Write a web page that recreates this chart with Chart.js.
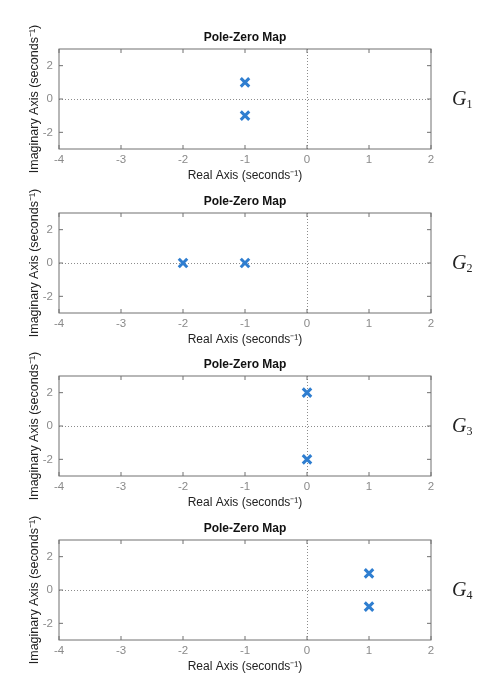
<!DOCTYPE html>
<html>
<head>
<meta charset="utf-8">
<script src="https://cdn.jsdelivr.net/npm/chart.js@4"></script>
<style>
  body { margin: 0; background: #fff; width: 495px; height: 698px; position: relative; overflow: hidden; }
  .panel { position: absolute; left: 0; width: 495px; height: 164px; }
  .glabel { position: absolute; left: 452px; line-height: 20px; font-family: "Liberation Serif", "DejaVu Serif", serif;
            font-style: italic; font-size: 20px; color: #222; }
  .glabel sub { font-style: normal; font-size: 12px; vertical-align: -3px; }
</style>
</head>
<body>
<script>
// one row per system G1..G4
const systemNames = ["1", "2", "3", "4"];
const poleReal = [[-1, -1], [-2, -1], [0, 0], [1, 1]];
const poleImag = [[1, -1], [0, 0], [2, -2], [1, -1]];
const xTicks = [-4, -3, -2, -1, 0, 1, 2];
const yTicks = [-2, 0, 2];
const panelTops = [24, 188, 351, 515];

// box round the plot with small inward ticks, MATLAB style
const frame = {
  id: "frame",
  afterDraw(chart) {
    const { ctx, chartArea: a, scales: { x, y } } = chart;
    ctx.save();
    ctx.strokeStyle = "#707070";
    ctx.lineWidth = 1;
    ctx.strokeRect(a.left, a.top, a.right - a.left, a.bottom - a.top);
    ctx.beginPath();
    xTicks.forEach(v => {
      const px = x.getPixelForValue(v);
      ctx.moveTo(px, a.bottom); ctx.lineTo(px, a.bottom - 4);
      ctx.moveTo(px, a.top); ctx.lineTo(px, a.top + 4);
    });
    yTicks.forEach(v => {
      const py = y.getPixelForValue(v);
      ctx.moveTo(a.left, py); ctx.lineTo(a.left + 4, py);
      ctx.moveTo(a.right, py); ctx.lineTo(a.right - 4, py);
    });
    ctx.stroke();
    ctx.restore();
  }
};

const zeroLine = c => (c.tick && c.tick.value === 0) ? "#8c8c8c" : "rgba(0,0,0,0)";

systemNames.forEach((name, i) => {
  const top = panelTops[i];
  const wrap = document.createElement("div");
  wrap.className = "panel";
  wrap.style.top = top + "px";
  const canvas = document.createElement("canvas");
  canvas.width = 495;
  canvas.height = 164;
  wrap.appendChild(canvas);
  document.body.appendChild(wrap);

  const label = document.createElement("div");
  label.className = "glabel";
  label.style.top = (top + 75 - 11) + "px";
  label.innerHTML = "G<sub>" + name + "</sub>";
  document.body.appendChild(label);

  const points = poleReal[i].map((re, k) => ({ x: re, y: poleImag[i][k] }));

  new Chart(canvas.getContext("2d"), {
    type: "scatter",
    data: {
      datasets: [{
        data: points,
        pointStyle: "crossRot",
        pointRadius: 6,
        pointBorderWidth: 3,
        borderColor: "#2f7ed0",
        backgroundColor: "#2f7ed0"
      }]
    },
    plugins: [frame],
    options: {
      responsive: false,
      animation: false,
      layout: { padding: { left: 0, right: 64, top: 0, bottom: 0 } },
      plugins: {
        legend: { display: false },
        tooltip: { enabled: false },
        title: {
          display: true,
          fullSize: false,
          text: "Pole-Zero Map",
          color: "#111",
          font: { family: "Liberation Sans", size: 12, weight: "bold" },
          padding: { top: 6, bottom: 4.6 }
        }
      },
      scales: {
        x: {
          type: "linear",
          min: -4,
          max: 2,
          afterBuildTicks: s => { s.ticks = xTicks.map(v => ({ value: v })); },
          afterFit: s => { s.height = 39; },
          ticks: { color: "#8a8a8a", font: { family: "Liberation Sans", size: 11.5 }, padding: 4, maxRotation: 0 },
          grid: { color: zeroLine, drawTicks: false },
          border: { display: false, dash: [1, 2] },
          title: {
            display: true,
            text: "Real Axis (seconds\u207B\u00B9)",
            color: "#222",
            font: { family: "Liberation Sans", size: 12 },
            padding: { top: 0, bottom: 4.8 }
          }
        },
        y: {
          type: "linear",
          min: -3,
          max: 3,
          afterBuildTicks: s => { s.ticks = yTicks.map(v => ({ value: v })); },
          afterFit: s => { s.width = 59; },
          ticks: { color: "#8a8a8a", font: { family: "Liberation Sans", size: 11.5 }, padding: 6 },
          grid: { color: zeroLine, drawTicks: false },
          border: { display: false, dash: [1, 2] },
          title: {
            display: true,
            text: "Imaginary Axis (seconds\u207B\u00B9)",
            color: "#222",
            font: { family: "Liberation Sans", size: 12.5 },
            padding: { top: 27.5, bottom: 0 }
          }
        }
      }
    }
  });
});
</script>
</body>
</html>
